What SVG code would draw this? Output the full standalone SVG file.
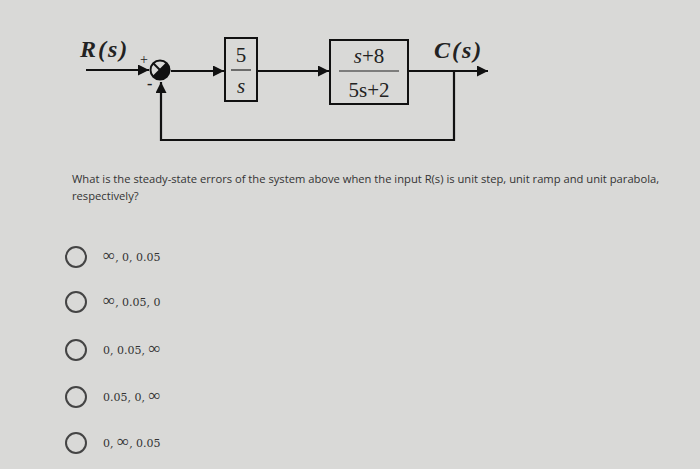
<svg xmlns="http://www.w3.org/2000/svg" width="700" height="469" viewBox="0 0 700 469">
<defs>
<style>
.l{stroke:#111;stroke-width:2.2;fill:none}
.b{stroke:#111;stroke-width:2;fill:none}
.m{font-family:"Liberation Serif",serif;fill:#222}
.q{font-family:"Open Sans","Liberation Sans",sans-serif;font-size:11.2px;fill:#333}
.o{font-family:"DejaVu Serif","Liberation Serif",serif;font-size:11px;fill:#333}
.i{font-family:"Liberation Serif",serif;font-size:17px}
.r{fill:none;stroke:#444;stroke-width:2}
</style>
<marker id="a" viewBox="0 0 10 10" refX="10" refY="5" markerWidth="5" markerHeight="5" orient="auto"><path d="M0,0L10,5L0,10z" fill="#111"/></marker>
</defs>
<rect width="700" height="469" fill="#d9d9d7"/>
<g id="connectors">
<line class="l" x1="86" y1="70" x2="149" y2="70" marker-end="url(#a)"/>
<line class="l" x1="171" y1="71" x2="224" y2="71" marker-end="url(#a)"/>
<line class="l" x1="258" y1="71" x2="329" y2="71" marker-end="url(#a)"/>
<line class="l" x1="409" y1="71" x2="488" y2="71" marker-end="url(#a)"/>
<polyline class="l" points="454,71 454,140 161,140 161,82" marker-end="url(#a)"/>
</g>
<g id="sum">
<circle cx="160" cy="70" r="9.5" class="b" fill="#d9d9d7"/>
<line class="b" x1="153.5" y1="63.5" x2="166.5" y2="76.5"/>
<line class="b" x1="166.5" y1="63.5" x2="153.5" y2="76.5"/>
<path d="M160,70L153.3,76.7A9.5,9.5 0 0 0 166.7,76.7Z" fill="#111"/>
<path d="M160,70L166.7,63.3A9.5,9.5 0 0 1 166.7,76.7Z" fill="#111"/>
<text x="140" y="64" class="m" font-size="14">+</text>
<text x="147" y="89" class="m" font-size="16" font-weight="bold">-</text>
</g>
<g id="R"><text x="80" y="57" class="m" font-size="24" font-style="italic" font-weight="bold" letter-spacing="2">R(s)</text></g>
<g id="C"><text x="434" y="58" class="m" font-size="24" font-style="italic" font-weight="bold" letter-spacing="2">C(s)</text></g>
<g id="G1">
<rect x="225" y="38" width="32" height="63" class="b" fill="#d9d9d7"/>
<text x="241" y="62" class="m" font-size="21" text-anchor="middle">5</text>
<line x1="231" y1="70" x2="251" y2="70" stroke="#222" stroke-width="1.2"/>
<text x="241" y="93" class="m" font-size="21" font-style="italic" text-anchor="middle">s</text>
</g>
<g id="G2">
<rect x="330" y="40" width="78" height="64" class="b" fill="#d9d9d7"/>
<text x="369" y="63" class="m" font-size="21" text-anchor="middle"><tspan font-style="italic">s</tspan>+8</text>
<line x1="339" y1="71" x2="399" y2="71" stroke="#222" stroke-width="1.2"/>
<text x="369" y="97" class="m" font-size="21" text-anchor="middle">5s+2</text>
</g>
<g id="question">
<text x="72" y="183" class="q">What is the steady-state errors of the system above when the input R(s) is unit step, unit ramp and unit parabola,</text>
<text x="72" y="200" class="q">respectively?</text>
</g>
<g id="options">
<circle cx="76" cy="257" r="10" class="r"/><text x="103" y="261" class="o"><tspan class="i">∞</tspan>, 0, 0.05</text>
<circle cx="76" cy="302" r="10" class="r"/><text x="103" y="306" class="o"><tspan class="i">∞</tspan>, 0.05, 0</text>
<circle cx="76" cy="350" r="10" class="r"/><text x="103" y="354" class="o">0, 0.05, <tspan class="i">∞</tspan></text>
<circle cx="76" cy="397" r="10" class="r"/><text x="103" y="401" class="o">0.05, 0, <tspan class="i">∞</tspan></text>
<circle cx="76" cy="443" r="10" class="r"/><text x="103" y="447" class="o">0, <tspan class="i">∞</tspan>, 0.05</text>
</g>
</svg>
